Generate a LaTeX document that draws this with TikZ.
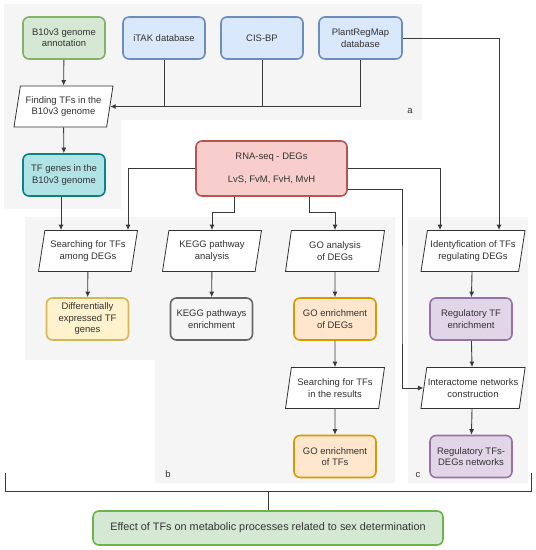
\documentclass[tikz,border=0pt]{standalone}
\usepackage{fontspec}
\setmainfont{Liberation Sans}
\usetikzlibrary{shapes.geometric,arrows.meta,calc}
\definecolor{bggray}{HTML}{F5F5F5}
\definecolor{txt}{HTML}{333333}
\definecolor{lc}{HTML}{3A3A3A}
\definecolor{gfill}{HTML}{D5E8D4}\definecolor{gdraw}{HTML}{82B366}
\definecolor{bfill}{HTML}{DAE8FC}\definecolor{bdraw}{HTML}{6C8EBF}
\definecolor{tfill}{HTML}{B0E3E6}\definecolor{tdraw}{HTML}{0E8088}
\definecolor{rfill}{HTML}{F8CECC}\definecolor{rdraw}{HTML}{B85450}
\definecolor{yfill}{HTML}{FFF2CC}\definecolor{ydraw}{HTML}{D6B656}
\definecolor{kfill}{HTML}{F5F5F5}\definecolor{kdraw}{HTML}{666666}
\definecolor{ofill}{HTML}{FFE6CC}\definecolor{odraw}{HTML}{D79B00}
\definecolor{pfill}{HTML}{E1D5E7}\definecolor{pdraw}{HTML}{9673A6}
\definecolor{bgfill}{HTML}{D5E8D4}\definecolor{bgdraw}{HTML}{6DB34A}
\begin{document}
\begin{tikzpicture}[x=1bp,y=-1bp,
  lbl/.style={font=\fontsize{9.5}{11.5}\selectfont, text=txt},
  box/.style={lbl, rounded corners=6bp, line width=1.6bp, minimum width=82bp,
    minimum height=42bp, align=center, inner sep=2bp},
  para/.style={lbl, trapezium, trapezium left angle=74, trapezium right angle=106,
    trapezium stretches body, draw=txt, fill=white, line width=0.8bp,
    minimum width=99bp, minimum height=41bp, align=center, inner sep=1bp},
  conn/.style={draw=lc, line width=0.9bp},
  arr/.style={conn, -{Latex[length=5.5bp,width=5bp]}},
  green/.style={box, fill=gfill, draw=gdraw},
  blue/.style={box, fill=bfill, draw=bdraw},
  teal/.style={box, fill=tfill, draw=tdraw},
  yellowbox/.style={box, fill=yfill, draw=ydraw},
  graybox/.style={box, fill=kfill, draw=kdraw},
  orange/.style={box, fill=ofill, draw=odraw},
  purple/.style={box, fill=pfill, draw=pdraw},
]
\useasboundingbox (0,0) rectangle (536,550);
% background regions
\fill[bggray] (4,4) -- (422,4) -- (422,120) -- (121,120) -- (121,209) -- (4,209) -- cycle;
\fill[bggray] (25,217) -- (395,217) -- (395,483) -- (155,483) -- (155,360) -- (25,360) -- cycle;
\fill[bggray] (408,217) rectangle (528,483);
\node[lbl] (la) at (410,111) {a};
\node[lbl] (lb) at (168,474) {b};
\node[lbl] (lc) at (418,475) {c};

% nodes
\node[green] (ann) at (64,38) {B10v3 genome\\annotation};
\node[blue] (itak) at (164,38) {iTAK database};
\node[blue] (cis) at (262,38) {CIS-BP};
\node[blue, minimum width=83bp] (prm) at (360.5,38) {PlantRegMap\\database};
\node[para] (find) at (63.5,106.5) {Finding TFs in the\\B10v3 genome};
\node[teal] (tfg) at (64,175) {TF genes in the\\B10v3 genome};
\node[box, fill=rfill, draw=rdraw, minimum width=151bp, minimum height=55bp] (rna) at (271.5,168.5) {RNA-seq - DEGs\\[12bp]LvS, FvM, FvH, MvH};
\node[para] (srch) at (88,251) {Searching for TFs\\among DEGs};
\node[yellowbox] (dex) at (87.5,319) {Differentially\\expressed TF\\genes};
\node[para] (kan) at (212,251) {KEGG pathway\\analysis};
\node[graybox] (ken) at (211.5,319) {KEGG pathways\\enrichment};
\node[para] (goa) at (335,251) {GO analysis\\of DEGs};
\node[orange] (goe) at (335,319) {GO enrichment\\of DEGs};
\node[para] (srs) at (335,388) {Searching for TFs\\in the results};
\node[orange] (got) at (335,456.5) {GO enrichment\\of TFs};
\node[para, minimum width=104bp] (ident) at (473,251) {Identyfication of TFs\\regulating DEGs};
\node[purple] (rtf) at (471,319) {Regulatory TF\\enrichment};
\node[para, minimum width=104bp] (inter) at (473,388) {Interactome networks\\construction};
\node[purple] (net) at (471,456.5) {Regulatory TFs-\\DEGs networks};
\node[box, fill=bgfill, draw=bgdraw, minimum width=350bp, minimum height=34bp,
  font=\fontsize{10.9}{13}\selectfont] (bot) at (268,528) {Effect of TFs on metabolic processes related to sex determination};
\coordinate (j) at (402,300);

% connectors
\draw[arr] (ann) -- (find);
\draw[arr] (prm.south) |- (find.east);
\draw[conn] (itak.south) -- (itak.south |- find.east);
\draw[conn] (cis.south) -- (cis.south |- find.east);
\draw[arr] (find) -- (tfg);
\draw[arr] ($(tfg.south)+(-3,0)$) -- ($(tfg.south |- srch.north)+(-3,0)$);
\draw[arr] (rna.west) -| ($(srch.north)+(40,0)$);
\draw[arr] ($(rna.south)+(-37.5,0)$) -- ++(0,16) -| (kan.north);
\draw[arr] ($(rna.south)+(37.5,0)$) -- ++(0,16) -| (goa.north);
\draw[arr] (rna.east) -| ($(ident.north)+(-33,0)$);
\draw[arr] ($(rna.east)+(0,20.5)$) -| (j) |- (inter.west);
\draw[arr] (prm.east) -| ($(ident.north)+(26,0)$);
\draw[arr] (srch) -- (dex);
\draw[arr] (kan) -- (ken);
\draw[arr] (goa) -- (goe);
\draw[arr] (goe) -- (srs);
\draw[arr] (srs) -- (got);
\draw[arr] ($(ident.south)+(-1,0)$) -- (rtf);
\draw[arr] (rtf) -- ($(inter.north)+(-1,0)$);
\draw[arr] ($(inter.south)+(-1,0)$) -- (net);
% bracket
\coordinate (bl) at (5,473);
\coordinate (br) at (531,473);
\draw[conn] (bl) -- (5,491) -- (531,491) -- (br);
\draw[conn] (bot.north |- 0,491) -- (bot.north);
\end{tikzpicture}
\end{document}
